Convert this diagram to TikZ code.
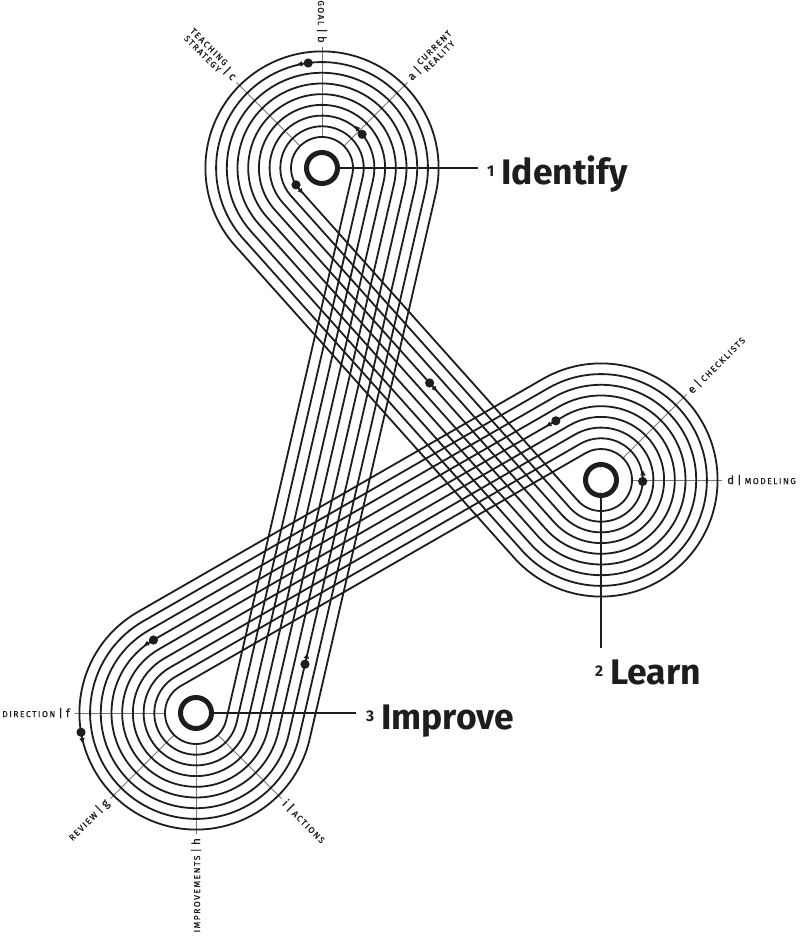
\documentclass[tikz,border=0pt]{standalone}
\usepackage{fontspec}
\setmainfont{Fira Sans}
\newfontfamily\capsfont[LetterSpace=17, FakeBold=0.6]{Fira Sans}
\newfontfamily\lcfont[FakeBold=0.3]{Fira Sans}
\usetikzlibrary{calc,arrows.meta}
\definecolor{ink}{RGB}{30,28,29}
\newcommand\capsw[1]{{\capsfont\fontsize{8.6}{9.6}\selectfont #1}}
\newcommand\lcw[1]{{\lcfont\fontsize{11.5}{12}\selectfont #1}}
\newcommand\barsep{\hspace{3pt}\lcw{|}\hspace{3pt}}
\newcommand\supnum[1]{\raisebox{8.5pt}{\fontsize{15.5}{16}\selectfont\bfseries #1}\hspace{7pt}}
\tikzset{
  loopline/.style={ink, line width=1.8pt},
  ray/.style={ink!60, line width=0.9pt},
  ringnode/.style={circle, draw=ink, line width=5pt, minimum size=31pt, inner sep=0pt},
  conn/.style={ink, line width=2pt},
  titletext/.style={font=\bfseries\fontsize{35.5}{38}\selectfont, text=ink, inner sep=0pt},
  lbl/.style={text=ink, inner sep=0pt},
  flowdot/.style={ink},
  flowtip/.style={ink, line width=1pt, -{Triangle[length=5pt,width=5pt]}},
}
\begin{document}
\begin{tikzpicture}[x=1pt,y=1pt]
\useasboundingbox (0,0) rectangle (800,937);
\fill[white] (0,0) rectangle (800,937);
% centres
\coordinate (cA) at (322,769);
\coordinate (cB) at (601,457);
\coordinate (cC) at (196,224);

% radial label lines
\foreach \ang in {90,45,135}{
  \draw[ray] ($(cA)+(\ang:31pt)$) -- ($(cA)+(\ang:121pt)$);
}
\foreach \ang in {0,45}{
  \draw[ray] ($(cB)+(\ang:31pt)$) -- ($(cB)+(\ang:121pt)$);
}
\foreach \ang in {180,225,270,315}{
  \draw[ray] ($(cC)+(\ang:31pt)$) -- ($(cC)+(\ang:121pt)$);
}

% nested twisted loops
\foreach \k in {0,...,8}{
  \pgfmathsetmacro\rr{31+10.7*\k}
  \draw[loopline]
    ($(cA)+(221.81:\rr pt)$) -- ($(cB)+(221.81:\rr pt)$)
    arc[start angle=-138.19, end angle=119.92, radius=\rr pt]
    -- ($(cC)+(119.92:\rr pt)$)
    arc[start angle=119.92, end angle=346.98, radius=\rr pt]
    -- ($(cA)+(346.98:\rr pt)$)
    arc[start angle=346.98, end angle=581.81, radius=\rr pt]
    -- cycle;
}

% centre rings
\node[ringnode] (A) at (cA) {};
\node[ringnode] (B) at (cB) {};
\node[ringnode] (C) at (cC) {};

% flow dots with arrows
\coordinate (d1) at ($(cA)+(97.5:105.9pt)$);
\coordinate (d2) at ($(cA)+(40:52.4pt)$);
\coordinate (d3) at ($(cA)+(213:31pt)$);
\coordinate (d4) at ($(cA)+(-48.19:232pt)+(-138.19:63.1pt)$);
\coordinate (d5) at ($(cB)+(209.92:9.6pt)+(119.92:73.8pt)$);
\coordinate (d6) at ($(cB)+(-2:41.7pt)$);
\coordinate (d7) at ($(cB)+(209.92:467.7pt)+(119.92:84.5pt)$);
\coordinate (d8) at ($(cC)+(189.5:116.6pt)$);
\coordinate (d9) at ($(cC)+(76.98:72.1pt)+(-13.02:95.2pt)$);
\foreach \p/\dir in {d1/187.5,d2/130,d3/308,d4/-48.19,d5/209.92,d6/88,d7/209.92,d8/279.5,d9/76.98}{
  \fill[flowdot] (\p) circle[radius=4.6pt];
  \draw[flowtip] (\p) -- ++(\dir:11pt);
}

% title connectors and titles
\coordinate (eI) at (478,769);
\coordinate (eL) at (601,289);
\coordinate (eC) at (356,224);
\draw[conn] (A.east) -- (eI);
\draw[conn] (B.south) -- (eL);
\draw[conn] (C.east) -- (eC);
\node[titletext, anchor=base west] (tI) at (487,752) {\supnum{1}Identify};
\node[titletext, anchor=base west] (tL) at (595,252) {\supnum{2}Learn};
\node[titletext, anchor=base west] (tC) at (366,207) {\supnum{3}Improve};

% small labels
\node[lbl, rotate=-90, anchor=east] (lb) at ($(cA)+(90:125pt)$) {\capsw{GOAL}\barsep\lcw{b}};
\node[lbl, rotate=45, anchor=west] (la) at ($(cA)+(45:125pt)$)
  {\lcw{a}\barsep{\fontsize{8.6}{9.6}\selectfont\begin{tabular}{@{}l@{}}\capsw{CURRENT}\\\capsw{REALITY}\end{tabular}}};
\node[lbl, rotate=-45, anchor=east] (lc) at ($(cA)+(135:125pt)$)
  {{\fontsize{8.6}{9.6}\selectfont\begin{tabular}{@{}r@{}}\capsw{TEACHING}\\\capsw{STRATEGY}\end{tabular}}\barsep\lcw{c}};
\node[lbl, anchor=west] (ld) at ($(cB)+(0:126pt)$) {\lcw{d}\barsep\capsw{MODELING}};
\node[lbl, rotate=45, anchor=west] (le) at ($(cB)+(45:125pt)$) {\lcw{e}\barsep\capsw{CHECKLISTS}};
\node[lbl, anchor=east] (lf) at ($(cC)+(180:126pt)$) {\capsw{DIRECTION}\barsep\lcw{f}};
\node[lbl, rotate=45, anchor=east] (lg) at ($(cC)+(225:125pt)$) {\capsw{REVIEW}\barsep\lcw{g}};
\node[lbl, rotate=90, anchor=east] (lh) at ($(cC)+(270:125pt)$) {\capsw{IMPROVEMENTS}\barsep\lcw{h}};
\node[lbl, rotate=-45, anchor=west] (li) at ($(cC)+(315:125pt)$) {\lcw{i}\barsep\capsw{ACTIONS}};
\end{tikzpicture}
\end{document}
